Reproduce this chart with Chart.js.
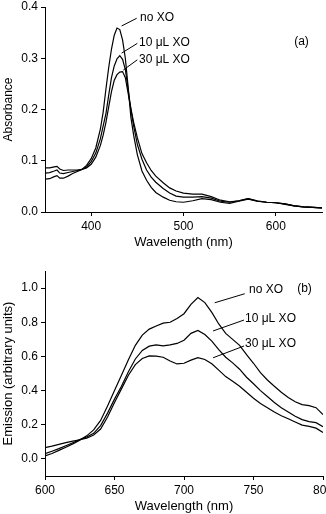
<!DOCTYPE html>
<html>
<head>
<meta charset="utf-8">
<script src="https://cdn.jsdelivr.net/npm/chart.js@4.4.1/dist/chart.umd.min.js"></script>
<style>
html, body { margin: 0; padding: 0; background: #fff; }
canvas { display: block; }
</style>
</head>
<body>
<canvas id="canvas_abs" width="326" height="250"></canvas>
<canvas id="canvas_em" width="326" height="264"></canvas>
<script>
// (a) absorbance spectra
var absWavelength = [350, 355, 360, 363, 366, 370, 375, 380, 385, 390, 395, 400, 405, 410, 413, 416, 419, 422, 425, 428,
    431, 434, 437, 440, 443, 446, 450, 455, 460, 465, 470, 478, 485, 492, 500, 510, 520, 530, 540, 550,
    560, 570, 580, 590, 600, 610, 620, 630, 640, 650];
var absNoXO = [0.064, 0.065, 0.069, 0.071, 0.066, 0.066, 0.070, 0.075, 0.079, 0.083, 0.091, 0.104, 0.125, 0.162, 0.195, 0.240, 0.282, 0.318, 0.345, 0.359,
    0.356, 0.336, 0.300, 0.245, 0.185, 0.150, 0.112, 0.080, 0.062, 0.048, 0.038, 0.029, 0.023, 0.020, 0.019, 0.022, 0.026, 0.024, 0.019, 0.017,
    0.021, 0.025, 0.021, 0.019, 0.018, 0.016, 0.012, 0.010, 0.009, 0.008];
var abs10uL = [0.076, 0.077, 0.080, 0.082, 0.076, 0.075, 0.077, 0.079, 0.081, 0.083, 0.088, 0.098, 0.115, 0.143, 0.168, 0.192, 0.228, 0.262, 0.285, 0.299,
    0.305, 0.298, 0.278, 0.240, 0.200, 0.168, 0.132, 0.103, 0.082, 0.068, 0.058, 0.046, 0.037, 0.031, 0.029, 0.029, 0.030, 0.027, 0.021, 0.019,
    0.022, 0.026, 0.021, 0.019, 0.018, 0.016, 0.012, 0.010, 0.009, 0.008];
var abs30uL = [0.086, 0.086, 0.088, 0.089, 0.084, 0.081, 0.082, 0.082, 0.082, 0.083, 0.086, 0.093, 0.107, 0.130, 0.150, 0.175, 0.205, 0.235, 0.257, 0.268,
    0.273, 0.274, 0.262, 0.232, 0.202, 0.175, 0.145, 0.114, 0.096, 0.081, 0.070, 0.057, 0.047, 0.041, 0.037, 0.035, 0.035, 0.030, 0.023, 0.020,
    0.022, 0.026, 0.022, 0.019, 0.018, 0.015, 0.012, 0.010, 0.009, 0.008];
var absXTicks = [400, 500, 600];
var absYTicks = [0, 0.1, 0.2, 0.3, 0.4];

// (b) emission spectra
var emWavelength = [600, 605, 610, 615, 620, 625, 630, 635, 640, 645, 650, 655, 660, 665, 670, 675, 680, 685, 690, 695,
    700, 705, 710, 715, 720, 725, 730, 735, 740, 745, 750, 755, 760, 765, 770, 775, 780, 785, 790, 795, 800];
var emNoXO = [0.018, 0.032, 0.050, 0.068, 0.088, 0.110, 0.135, 0.170, 0.225, 0.310, 0.400, 0.490, 0.580, 0.665, 0.725, 0.760, 0.778, 0.795, 0.800, 0.822,
    0.850, 0.905, 0.945, 0.915, 0.858, 0.790, 0.735, 0.700, 0.665, 0.610, 0.560, 0.505, 0.462, 0.425, 0.390, 0.360, 0.335, 0.318, 0.312, 0.300, 0.260];
var em10uL = [0.031, 0.045, 0.060, 0.077, 0.095, 0.113, 0.128, 0.150, 0.195, 0.268, 0.350, 0.425, 0.510, 0.585, 0.635, 0.660, 0.667, 0.662, 0.668, 0.676,
    0.695, 0.735, 0.752, 0.728, 0.690, 0.640, 0.595, 0.562, 0.525, 0.478, 0.440, 0.400, 0.365, 0.330, 0.300, 0.275, 0.250, 0.230, 0.218, 0.212, 0.188];
var em30uL = [0.066, 0.075, 0.085, 0.095, 0.104, 0.112, 0.122, 0.140, 0.175, 0.245, 0.330, 0.410, 0.490, 0.552, 0.588, 0.603, 0.602, 0.595, 0.573, 0.556,
    0.560, 0.578, 0.593, 0.582, 0.557, 0.520, 0.482, 0.455, 0.425, 0.390, 0.355, 0.325, 0.300, 0.275, 0.253, 0.235, 0.216, 0.198, 0.190, 0.180, 0.155];
var emXTicks = [600, 650, 700, 750, 800];
var emYTicks = [0, 0.2, 0.4, 0.6, 0.8, 1.0];

var seriesNames = ['no XO', '10 \u03bcL XO', '30 \u03bcL XO'];

var FONT = "'Liberation Sans', Arial, Helvetica, sans-serif";
Chart.defaults.font.family = FONT;
Chart.defaults.color = '#000';

function toPoints(xs, ys) {
    return xs.map((x, i) => ({ x: x, y: ys[i] }));
}

function lineSet(label, xs, ys) {
    return {
        label: label,
        data: toPoints(xs, ys),
        borderColor: '#000',
        borderWidth: 1.2,
        pointRadius: 0,
        fill: false,
        tension: 0
    };
}

// labels with short pointer lines, placed in data units
function callouts(id, items) {
    return {
        id: id,
        afterDatasetsDraw(chart) {
            const ctx = chart.ctx, sx = chart.scales.x, sy = chart.scales.y;
            ctx.save();
            ctx.fillStyle = '#000';
            ctx.strokeStyle = '#000';
            ctx.lineWidth = 1;
            ctx.font = '12px ' + FONT;
            ctx.textBaseline = 'middle';
            items.forEach(it => {
                if (it.from) {
                    ctx.beginPath();
                    ctx.moveTo(sx.getPixelForValue(it.from[0]), sy.getPixelForValue(it.from[1]));
                    ctx.lineTo(sx.getPixelForValue(it.to[0]), sy.getPixelForValue(it.to[1]));
                    ctx.stroke();
                }
                ctx.textAlign = it.align || 'left';
                ctx.fillText(it.text, sx.getPixelForValue(it.at[0]), sy.getPixelForValue(it.at[1]));
            });
            ctx.restore();
        }
    };
}

function axisX(min, max, tickList, title, height) {
    return {
        type: 'linear',
        min: min,
        max: max,
        afterBuildTicks: s => { s.ticks = tickList.map(v => ({ value: v })); },
        // fixed height, and let the end labels overhang instead of shrinking the plot
        afterFit: s => { s.height = height; s.paddingLeft = 0; s.paddingRight = 0; },
        ticks: { font: { size: 12 }, maxRotation: 0, autoSkip: false, padding: 3, callback: v => String(v) },
        grid: { drawOnChartArea: false, drawTicks: true, tickLength: 4, color: '#000' },
        border: { color: '#000', width: 1 },
        title: { display: true, text: title, font: { size: 13 }, padding: 0 }
    };
}

function axisY(min, max, tickList, title, titleSize) {
    return {
        type: 'linear',
        min: min,
        max: max,
        afterBuildTicks: s => { s.ticks = tickList.map(v => ({ value: v })); },
        afterFit: s => { s.width = 45; s.paddingTop = 0; s.paddingBottom = 0; },
        ticks: { font: { size: 12 }, padding: 3, callback: v => Number(v).toFixed(1) },
        grid: { drawOnChartArea: false, drawTicks: true, tickLength: 4, color: '#000' },
        border: { color: '#000', width: 1 },
        title: { display: true, text: title, font: { size: titleSize }, padding: { top: 1, bottom: 0 } }
    };
}

const ctx_abs = document.getElementById('canvas_abs').getContext('2d');
var chart1 = new Chart(ctx_abs, {
    type: 'line',
    data: {
        datasets: [
            lineSet(seriesNames[0], absWavelength, absNoXO),
            lineSet(seriesNames[1], absWavelength, abs10uL),
            lineSet(seriesNames[2], absWavelength, abs30uL)
        ]
    },
    options: {
        responsive: false,
        animation: false,
        layout: { padding: { top: 7, right: 4, left: 0, bottom: 0 } },
        plugins: { legend: { display: false }, tooltip: { enabled: false } },
        scales: {
            x: axisX(350, 650, absXTicks, 'Wavelength (nm)', 38),
            y: axisY(0, 0.4, absYTicks, 'Absorbance', 12)
        }
    },
    plugins: [callouts('calloutsAbs', [
        { text: seriesNames[0], at: [452.9, 0.380], from: [433, 0.363], to: [449.3, 0.378] },
        { text: seriesNames[1], at: [451.8, 0.330], from: [433, 0.310], to: [450, 0.329] },
        { text: seriesNames[2], at: [451.8, 0.297], from: [434.8, 0.277], to: [450, 0.297] },
        { text: '(a)', at: [627.8, 0.332], align: 'center' }
    ])]
});

const ctx_em = document.getElementById('canvas_em').getContext('2d');
var chart2 = new Chart(ctx_em, {
    type: 'line',
    data: {
        datasets: [
            lineSet(seriesNames[0], emWavelength, emNoXO),
            lineSet(seriesNames[1], emWavelength, em10uL),
            lineSet(seriesNames[2], emWavelength, em30uL)
        ]
    },
    options: {
        responsive: false,
        animation: false,
        layout: { padding: { top: 21, right: 3, left: 0, bottom: 0 } },
        plugins: { legend: { display: false }, tooltip: { enabled: false } },
        scales: {
            x: axisX(600, 800, emXTicks, 'Wavelength (nm)', 38),
            y: axisY(-0.1, 1.1, emYTicks, 'Emission (arbitrary units)', 13)
        }
    },
    plugins: [callouts('calloutsEm', [
        { text: seriesNames[0], at: [746.8, 0.988], from: [722.1, 0.914], to: [743.7, 0.967] },
        { text: seriesNames[1], at: [743.9, 0.819], from: [720.9, 0.749], to: [743.2, 0.813] },
        { text: seriesNames[2], at: [743.9, 0.673], from: [720.9, 0.592], to: [743.2, 0.661] },
        { text: '(b)', at: [786.7, 0.994], align: 'center' }
    ])]
});
</script>
</body>
</html>
